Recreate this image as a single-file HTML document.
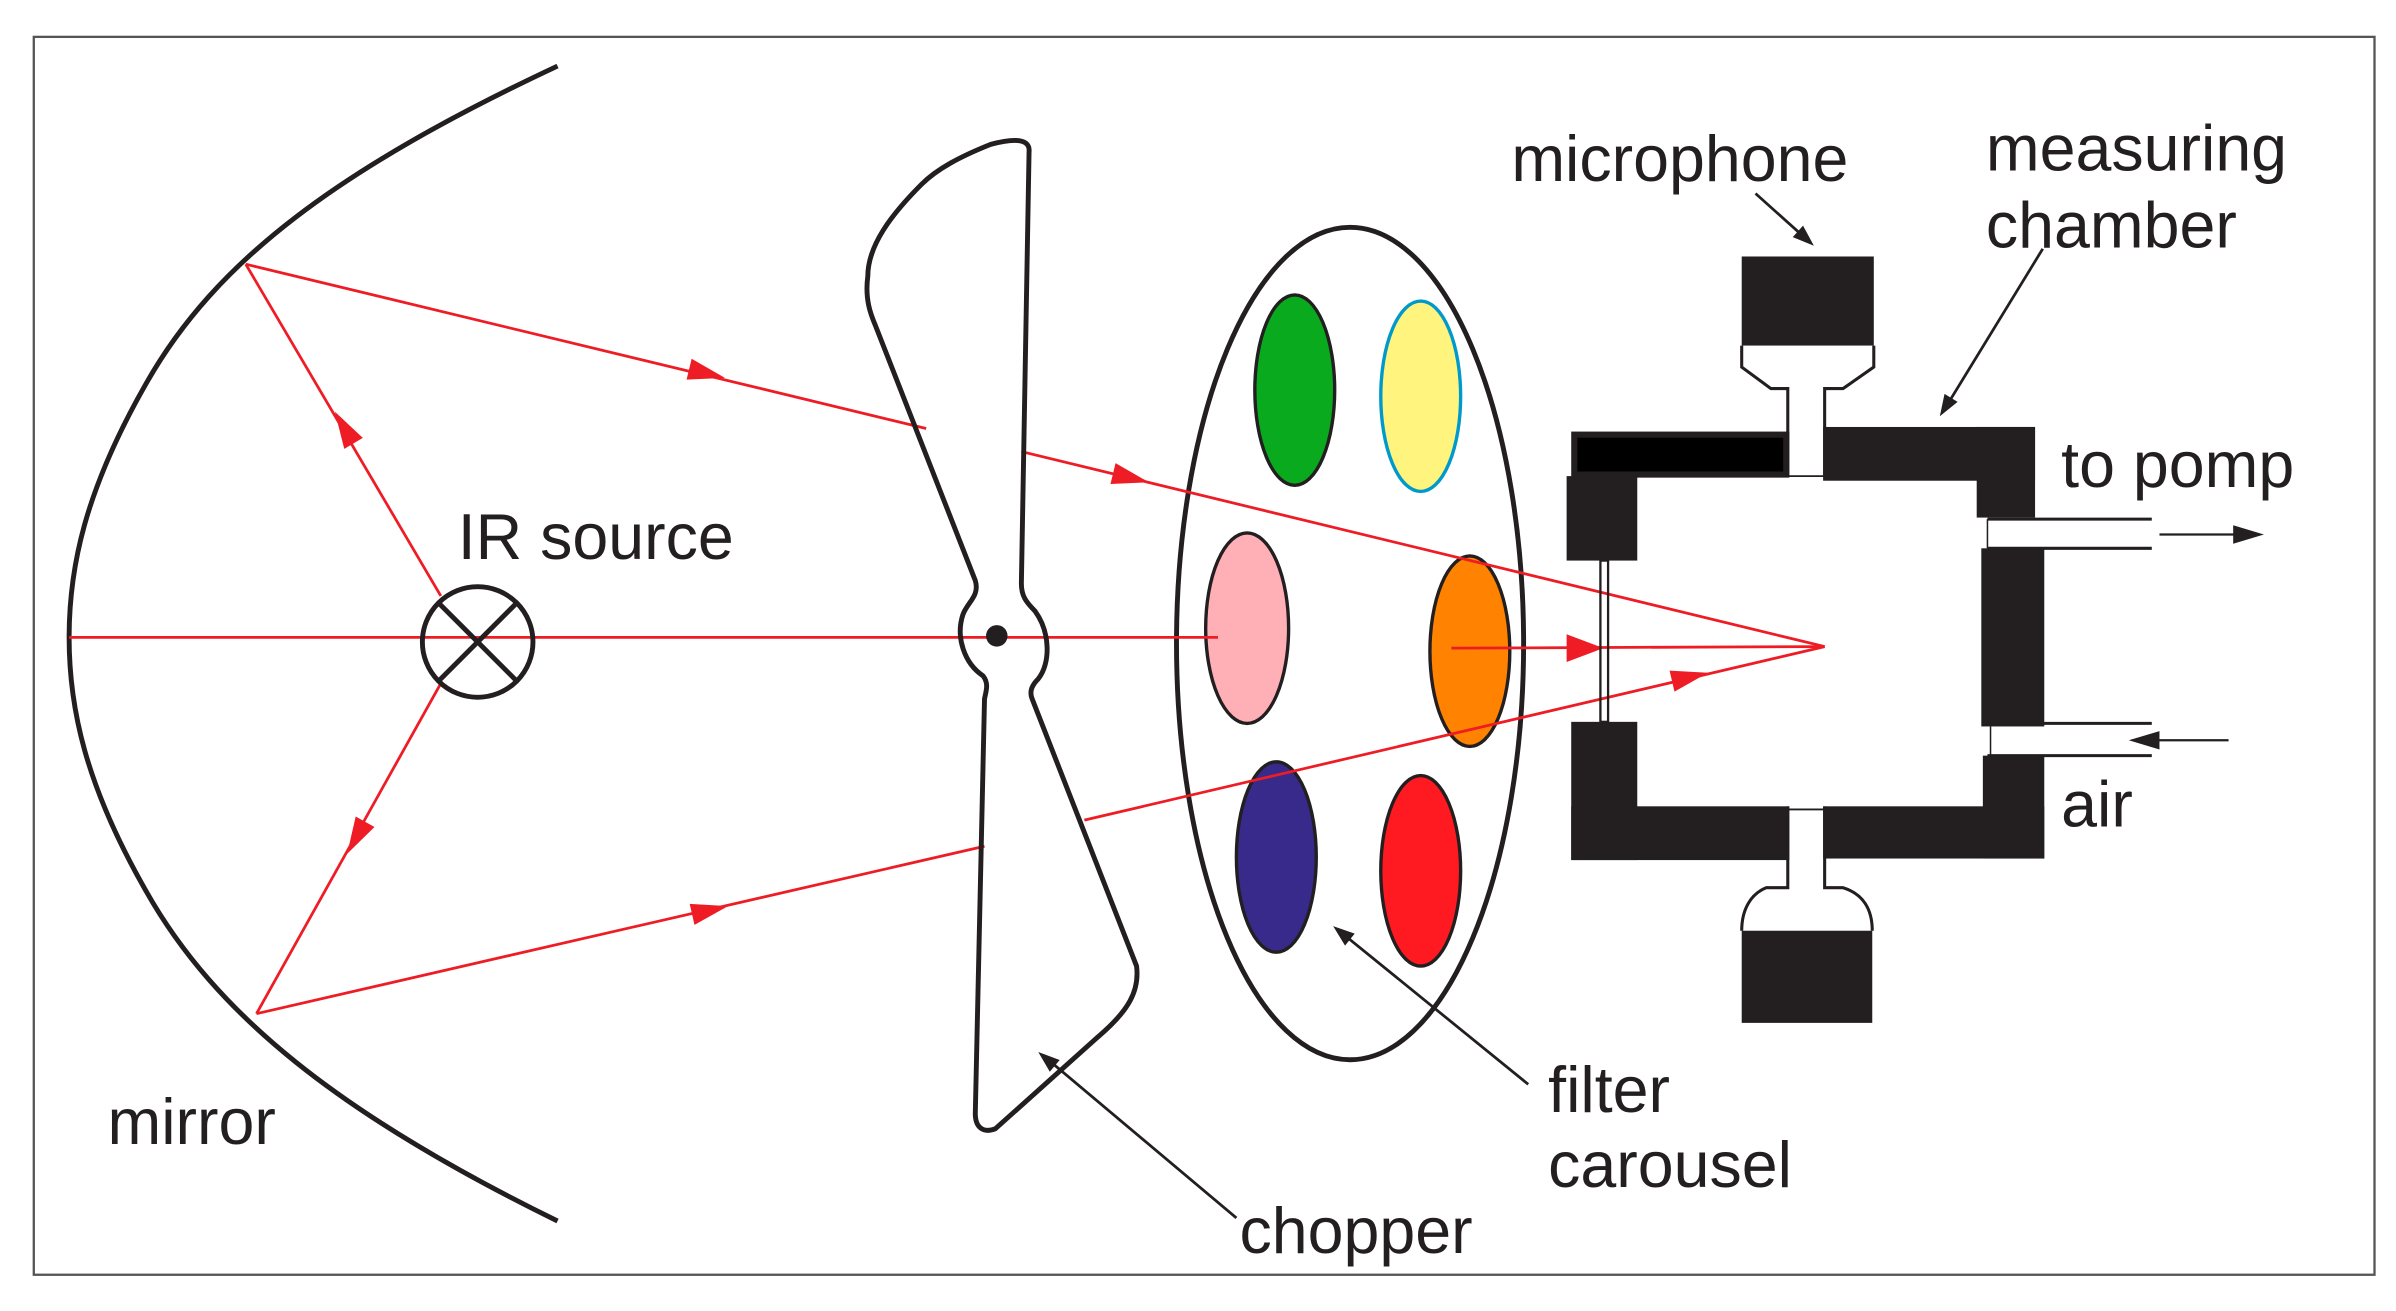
<!DOCTYPE html>
<html><head><meta charset="utf-8"><style>
html,body{margin:0;padding:0;background:#fff;}
svg{display:block;}
text{font-family:"Liberation Sans",sans-serif;fill:#231f20;font-size:42px;}
</style></head><body>
<svg width="2396" height="1311" viewBox="0 0 1560 853.6" preserveAspectRatio="none" xmlns="http://www.w3.org/2000/svg">
<rect x="0" y="0" width="1560" height="854" fill="#fff"/>
<rect x="22" y="24" width="1524" height="806" fill="none" stroke="#555" stroke-width="1.5"/>

<!-- mirror -->
<path d="M363,43 C220,110 140,170 95,250 C55,320 45,370 45,415 C45,460 55,510 95,580 C140,660 220,725 363,795" fill="none" stroke="#231f20" stroke-width="3.2"/>

<!-- carousel -->
<ellipse cx="879" cy="419" rx="113" ry="271" fill="none" stroke="#231f20" stroke-width="3.2"/>
<g stroke="#231f20" stroke-width="2.2">
<ellipse cx="843" cy="254" rx="26" ry="62" fill="#0aaa1e"/>
<ellipse cx="925" cy="258" rx="26" ry="62" fill="#fff47e" stroke="#0099cc"/>
<ellipse cx="812" cy="409" rx="27" ry="62" fill="#ffb0b7"/>
<ellipse cx="957" cy="424" rx="26" ry="62" fill="#ff8200"/>
<ellipse cx="831" cy="558" rx="26" ry="62" fill="#372a8a"/>
<ellipse cx="925" cy="567" rx="26" ry="62" fill="#ff1a22"/>
</g>

<!-- red rays -->
<g stroke="#ee1c24" stroke-width="1.8" fill="none">
<line x1="45" y1="415" x2="793" y2="415"/>
<line x1="287" y1="388" x2="160" y2="172"/>
<line x1="160" y1="172" x2="603" y2="279"/>
<line x1="665" y1="294" x2="1188" y2="421"/>
<line x1="287" y1="445" x2="167" y2="660"/>
<line x1="167" y1="660" x2="641" y2="551"/>
<line x1="706" y1="534" x2="1188" y2="421"/>
<line x1="945" y1="422" x2="1188" y2="421"/>
</g>
<g fill="#ee1c24">
<polygon points="-24,-7 0,0 -24,7" transform="translate(218,268) rotate(-120.5)"/>
<polygon points="-24,-7 0,0 -24,7" transform="translate(472,246) rotate(13.6)"/>
<polygon points="-24,-7 0,0 -24,7" transform="translate(748,314) rotate(13.6)"/>
<polygon points="-24,-7 0,0 -24,7" transform="translate(226,556) rotate(119.2)"/>
<polygon points="-24,-7 0,0 -24,7" transform="translate(474,590) rotate(-12.9)"/>
<polygon points="-24,-7 0,0 -24,7" transform="translate(1112,438) rotate(-13.2)"/>
<polygon points="-24,-9 0,0 -24,9" transform="translate(1044,422) rotate(0)"/>
</g>

<!-- IR source -->
<circle cx="311" cy="418" r="36" fill="none" stroke="#231f20" stroke-width="3.2"/>
<line x1="286" y1="393" x2="336" y2="443" stroke="#231f20" stroke-width="3.2"/>
<line x1="336" y1="393" x2="286" y2="443" stroke="#231f20" stroke-width="3.2"/>

<!-- chopper -->
<path d="M670,99 C671,90 660,90 645,94 C625,102 610,110 600,120 C580,140 565,160 565,180 C563,195 567,205 570,212 L635,378 C638,388 630,392 627,400 C622,415 628,432 640,440 C644,445 642,450 641,455 L635,725 C635,734 640,738 648,735 L715,675 C735,658 742,645 740,629 L672,455 C670,450 672,446 676,442 C684,432 684,412 674,398 C668,392 665,388 665,380 Z" fill="none" stroke="#231f20" stroke-width="3.2" stroke-linejoin="round"/>
<circle cx="649" cy="414" r="7" fill="#231f20"/>

<!-- chamber -->
<g fill="#231f20">
<rect x="1023" y="281" width="142" height="30"/>
<rect x="1020" y="310" width="46" height="55"/>
<rect x="1023" y="470" width="43" height="90"/>
<rect x="1023" y="525" width="142" height="35"/>
<rect x="1187" y="525" width="144" height="34"/>
<rect x="1187" y="278" width="138" height="35"/>
<rect x="1287" y="278" width="38" height="59"/>
<rect x="1290" y="357" width="41" height="116"/>
<rect x="1291" y="492" width="40" height="67"/>
<rect x="1134" y="167" width="86" height="58"/>
<rect x="1134" y="606" width="85" height="60"/>
</g>
<rect x="1027" y="285" width="134" height="22" fill="#000"/>
<rect x="1042" y="365" width="5" height="105" fill="none" stroke="#231f20" stroke-width="1.5"/>
<!-- mic necks -->
<path d="M1134,225 L1134,239 L1153,253 L1164,253 L1164,310 M1188,310 L1188,253 L1200,253 L1220,239 L1220,225" fill="none" stroke="#231f20" stroke-width="2"/>
<line x1="1164" y1="310" x2="1188" y2="310" stroke="#231f20" stroke-width="1.2"/>
<path d="M1164,525 L1164,578 L1150,578 C1140,582 1134,592 1134,606 M1219,606 C1219,592 1213,582 1200,578 L1188,578 L1188,525" fill="none" stroke="#231f20" stroke-width="2"/>
<line x1="1164" y1="527" x2="1188" y2="527" stroke="#231f20" stroke-width="1.2"/>
<!-- pipes -->
<g stroke="#231f20" stroke-width="2">
<line x1="1294" y1="338" x2="1401" y2="338"/>
<line x1="1294" y1="357" x2="1401" y2="357"/>
<line x1="1294" y1="471" x2="1401" y2="471"/>
<line x1="1294" y1="492" x2="1401" y2="492"/>
</g>
<line x1="1294" y1="338" x2="1294" y2="357" stroke="#231f20" stroke-width="1"/>
<line x1="1296" y1="473" x2="1296" y2="492" stroke="#231f20" stroke-width="1"/>
<!-- flow arrows -->
<g stroke="#231f20" stroke-width="1.5">
<line x1="1406" y1="348" x2="1455" y2="348"/>
<line x1="1451" y1="482" x2="1405" y2="482"/>
</g>
<polygon points="-20,-6 0,0 -20,6" transform="translate(1474,348)" fill="#231f20"/>
<polygon points="-20,-6 0,0 -20,6" transform="translate(1386,482) rotate(180)" fill="#231f20"/>

<!-- leaders -->
<g stroke="#231f20" stroke-width="1.8">
<line x1="1143" y1="126" x2="1172" y2="152"/>
<line x1="1330" y1="162" x2="1270" y2="260"/>
<line x1="805" y1="793" x2="686" y2="693"/>
<line x1="995" y1="706" x2="878" y2="611"/>
</g>
<g fill="#231f20">
<polygon points="-14,-5 0,0 -14,5" transform="translate(1181,160) rotate(41.9)"/>
<polygon points="-14,-5 0,0 -14,5" transform="translate(1263,271) rotate(121.5)"/>
<polygon points="-14,-5 0,0 -14,5" transform="translate(676,685) rotate(-140)"/>
<polygon points="-14,-5 0,0 -14,5" transform="translate(868,603) rotate(-141)"/>
</g>

<!-- labels -->
<text x="298" y="364">IR source</text>
<text x="70" y="745">mirror</text>
<text x="807" y="816">chopper</text>
<text x="1008" y="724">filter</text>
<text x="1008" y="773">carousel</text>
<text x="984" y="118">microphone</text>
<text x="1293" y="111">measuring</text>
<text x="1293" y="161">chamber</text>
<text x="1342" y="317">to pomp</text>
<text x="1342" y="538">air</text>
</svg>
</body></html>
